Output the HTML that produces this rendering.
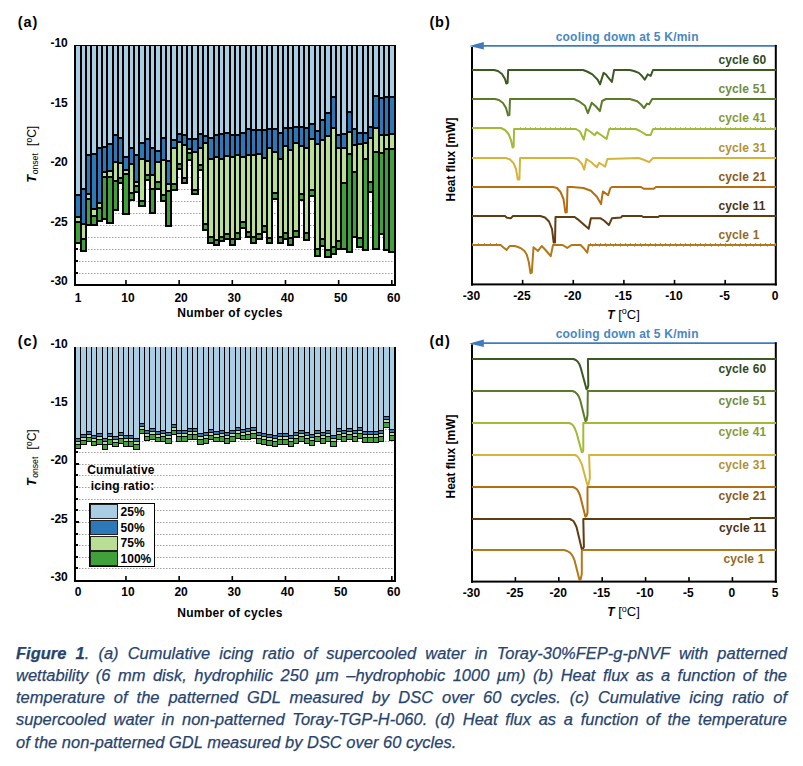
<!DOCTYPE html><html><head><meta charset="utf-8"><style>
html,body{margin:0;padding:0;background:#fff;}
body{width:803px;height:766px;overflow:hidden;position:relative;font-family:"Liberation Sans",sans-serif;}
svg{position:absolute;left:0;top:0;}
.cap{position:absolute;left:16px;width:804.2px;color:#27436f;font-style:italic;white-space:nowrap;font-size:17.2px;line-height:20px;transform:scaleX(0.9587);transform-origin:0 0;-webkit-text-stroke:0.25px #27436f;}
.j{text-align:justify;text-align-last:justify;white-space:normal;}
</style></head><body>
<svg width="803" height="630" viewBox="0 0 803 630" font-family='"Liberation Sans", sans-serif'>
<line x1="76" y1="57.50" x2="394" y2="57.50" stroke="#a0a0a0" stroke-width="1" stroke-dasharray="1.5 1.5"/>
<line x1="76" y1="69.50" x2="394" y2="69.50" stroke="#a0a0a0" stroke-width="1" stroke-dasharray="1.5 1.5"/>
<line x1="76" y1="81.50" x2="394" y2="81.50" stroke="#a0a0a0" stroke-width="1" stroke-dasharray="1.5 1.5"/>
<line x1="76" y1="93.50" x2="394" y2="93.50" stroke="#a0a0a0" stroke-width="1" stroke-dasharray="1.5 1.5"/>
<line x1="76" y1="105.50" x2="394" y2="105.50" stroke="#a0a0a0" stroke-width="1" stroke-dasharray="1.5 1.5"/>
<line x1="76" y1="117.50" x2="394" y2="117.50" stroke="#a0a0a0" stroke-width="1" stroke-dasharray="1.5 1.5"/>
<line x1="76" y1="129.50" x2="394" y2="129.50" stroke="#a0a0a0" stroke-width="1" stroke-dasharray="1.5 1.5"/>
<line x1="76" y1="141.50" x2="394" y2="141.50" stroke="#a0a0a0" stroke-width="1" stroke-dasharray="1.5 1.5"/>
<line x1="76" y1="153.50" x2="394" y2="153.50" stroke="#a0a0a0" stroke-width="1" stroke-dasharray="1.5 1.5"/>
<line x1="76" y1="165.50" x2="394" y2="165.50" stroke="#a0a0a0" stroke-width="1" stroke-dasharray="1.5 1.5"/>
<line x1="76" y1="177.50" x2="394" y2="177.50" stroke="#a0a0a0" stroke-width="1" stroke-dasharray="1.5 1.5"/>
<line x1="76" y1="189.50" x2="394" y2="189.50" stroke="#a0a0a0" stroke-width="1" stroke-dasharray="1.5 1.5"/>
<line x1="76" y1="201.50" x2="394" y2="201.50" stroke="#a0a0a0" stroke-width="1" stroke-dasharray="1.5 1.5"/>
<line x1="76" y1="213.50" x2="394" y2="213.50" stroke="#a0a0a0" stroke-width="1" stroke-dasharray="1.5 1.5"/>
<line x1="76" y1="225.50" x2="394" y2="225.50" stroke="#a0a0a0" stroke-width="1" stroke-dasharray="1.5 1.5"/>
<line x1="76" y1="237.50" x2="394" y2="237.50" stroke="#a0a0a0" stroke-width="1" stroke-dasharray="1.5 1.5"/>
<line x1="76" y1="249.50" x2="394" y2="249.50" stroke="#a0a0a0" stroke-width="1" stroke-dasharray="1.5 1.5"/>
<line x1="76" y1="261.50" x2="394" y2="261.50" stroke="#a0a0a0" stroke-width="1" stroke-dasharray="1.5 1.5"/>
<line x1="76" y1="273.50" x2="394" y2="273.50" stroke="#a0a0a0" stroke-width="1" stroke-dasharray="1.5 1.5"/>
<rect x="76" y="56" width="2" height="2" fill="#000" shape-rendering="crispEdges"/>
<rect x="76" y="68" width="2" height="2" fill="#000" shape-rendering="crispEdges"/>
<rect x="76" y="80" width="2" height="2" fill="#000" shape-rendering="crispEdges"/>
<rect x="76" y="92" width="2" height="2" fill="#000" shape-rendering="crispEdges"/>
<rect x="76" y="104" width="3" height="2" fill="#000" shape-rendering="crispEdges"/>
<rect x="76" y="116" width="2" height="2" fill="#000" shape-rendering="crispEdges"/>
<rect x="76" y="128" width="2" height="2" fill="#000" shape-rendering="crispEdges"/>
<rect x="76" y="140" width="2" height="2" fill="#000" shape-rendering="crispEdges"/>
<rect x="76" y="152" width="2" height="2" fill="#000" shape-rendering="crispEdges"/>
<rect x="76" y="164" width="3" height="2" fill="#000" shape-rendering="crispEdges"/>
<rect x="76" y="176" width="2" height="2" fill="#000" shape-rendering="crispEdges"/>
<rect x="76" y="188" width="2" height="2" fill="#000" shape-rendering="crispEdges"/>
<rect x="76" y="200" width="2" height="2" fill="#000" shape-rendering="crispEdges"/>
<rect x="76" y="212" width="2" height="2" fill="#000" shape-rendering="crispEdges"/>
<rect x="76" y="224" width="3" height="2" fill="#000" shape-rendering="crispEdges"/>
<rect x="76" y="236" width="2" height="2" fill="#000" shape-rendering="crispEdges"/>
<rect x="76" y="248" width="2" height="2" fill="#000" shape-rendering="crispEdges"/>
<rect x="76" y="260" width="2" height="2" fill="#000" shape-rendering="crispEdges"/>
<rect x="76" y="272" width="2" height="2" fill="#000" shape-rendering="crispEdges"/>
<g shape-rendering="crispEdges">
<rect x="74" y="45" width="8" height="199" fill="#000"/>
<rect x="80" y="45" width="7" height="207" fill="#000"/>
<rect x="85" y="45" width="7" height="181" fill="#000"/>
<rect x="90" y="45" width="8" height="181" fill="#000"/>
<rect x="96" y="45" width="7" height="177" fill="#000"/>
<rect x="101" y="45" width="7" height="175" fill="#000"/>
<rect x="106" y="45" width="8" height="179" fill="#000"/>
<rect x="112" y="45" width="7" height="166" fill="#000"/>
<rect x="117" y="45" width="7" height="139" fill="#000"/>
<rect x="122" y="45" width="8" height="170" fill="#000"/>
<rect x="128" y="45" width="7" height="156" fill="#000"/>
<rect x="133" y="45" width="7" height="148" fill="#000"/>
<rect x="138" y="45" width="8" height="162" fill="#000"/>
<rect x="144" y="45" width="7" height="136" fill="#000"/>
<rect x="149" y="45" width="7" height="169" fill="#000"/>
<rect x="154" y="45" width="8" height="145" fill="#000"/>
<rect x="160" y="45" width="7" height="157" fill="#000"/>
<rect x="165" y="45" width="7" height="182" fill="#000"/>
<rect x="170" y="45" width="8" height="146" fill="#000"/>
<rect x="176" y="45" width="7" height="125" fill="#000"/>
<rect x="181" y="45" width="7" height="139" fill="#000"/>
<rect x="186" y="45" width="7" height="116" fill="#000"/>
<rect x="191" y="45" width="8" height="150" fill="#000"/>
<rect x="197" y="45" width="7" height="126" fill="#000"/>
<rect x="202" y="45" width="7" height="186" fill="#000"/>
<rect x="207" y="45" width="8" height="199" fill="#000"/>
<rect x="213" y="45" width="7" height="201" fill="#000"/>
<rect x="218" y="45" width="7" height="197" fill="#000"/>
<rect x="223" y="45" width="8" height="195" fill="#000"/>
<rect x="229" y="45" width="7" height="201" fill="#000"/>
<rect x="234" y="45" width="7" height="195" fill="#000"/>
<rect x="239" y="45" width="8" height="184" fill="#000"/>
<rect x="245" y="45" width="7" height="193" fill="#000"/>
<rect x="250" y="45" width="7" height="199" fill="#000"/>
<rect x="255" y="45" width="8" height="195" fill="#000"/>
<rect x="261" y="45" width="7" height="188" fill="#000"/>
<rect x="266" y="45" width="7" height="199" fill="#000"/>
<rect x="271" y="45" width="8" height="155" fill="#000"/>
<rect x="277" y="45" width="7" height="199" fill="#000"/>
<rect x="282" y="45" width="7" height="195" fill="#000"/>
<rect x="287" y="45" width="7" height="201" fill="#000"/>
<rect x="292" y="45" width="8" height="193" fill="#000"/>
<rect x="298" y="45" width="7" height="156" fill="#000"/>
<rect x="303" y="45" width="7" height="196" fill="#000"/>
<rect x="308" y="45" width="8" height="152" fill="#000"/>
<rect x="314" y="45" width="7" height="212" fill="#000"/>
<rect x="319" y="45" width="7" height="202" fill="#000"/>
<rect x="324" y="45" width="8" height="213" fill="#000"/>
<rect x="330" y="45" width="7" height="210" fill="#000"/>
<rect x="335" y="45" width="7" height="205" fill="#000"/>
<rect x="340" y="45" width="8" height="205" fill="#000"/>
<rect x="346" y="45" width="7" height="208" fill="#000"/>
<rect x="351" y="45" width="7" height="193" fill="#000"/>
<rect x="356" y="45" width="8" height="203" fill="#000"/>
<rect x="362" y="45" width="7" height="206" fill="#000"/>
<rect x="367" y="45" width="7" height="148" fill="#000"/>
<rect x="372" y="45" width="8" height="205" fill="#000"/>
<rect x="378" y="45" width="7" height="190" fill="#000"/>
<rect x="383" y="45" width="7" height="206" fill="#000"/>
<rect x="388" y="45" width="8" height="208" fill="#000"/>
<rect x="76" y="46" width="4" height="148" fill="#a9cee3"/>
<rect x="76" y="196" width="4" height="20" fill="#2b79b9"/>
<rect x="76" y="218" width="4" height="3" fill="#b9df94"/>
<rect x="76" y="223" width="4" height="19" fill="#40a03a"/>
<rect x="82" y="46" width="3" height="142" fill="#a9cee3"/>
<rect x="82" y="190" width="3" height="33" fill="#2b79b9"/>
<rect x="82" y="225" width="3" height="13" fill="#b9df94"/>
<rect x="82" y="240" width="3" height="10" fill="#40a03a"/>
<rect x="87" y="46" width="3" height="108" fill="#a9cee3"/>
<rect x="87" y="156" width="3" height="37" fill="#2b79b9"/>
<rect x="87" y="195" width="3" height="3" fill="#b9df94"/>
<rect x="87" y="200" width="3" height="24" fill="#40a03a"/>
<rect x="92" y="46" width="4" height="107" fill="#a9cee3"/>
<rect x="92" y="155" width="4" height="53" fill="#2b79b9"/>
<rect x="92" y="210" width="4" height="5" fill="#b9df94"/>
<rect x="92" y="217" width="4" height="7" fill="#40a03a"/>
<rect x="98" y="46" width="3" height="101" fill="#a9cee3"/>
<rect x="98" y="149" width="3" height="53" fill="#2b79b9"/>
<rect x="98" y="204" width="3" height="3" fill="#b9df94"/>
<rect x="98" y="209" width="3" height="11" fill="#40a03a"/>
<rect x="103" y="46" width="3" height="100" fill="#a9cee3"/>
<rect x="103" y="148" width="3" height="23" fill="#2b79b9"/>
<rect x="103" y="173" width="3" height="3" fill="#b9df94"/>
<rect x="103" y="178" width="3" height="40" fill="#40a03a"/>
<rect x="108" y="46" width="4" height="97" fill="#a9cee3"/>
<rect x="108" y="145" width="4" height="25" fill="#2b79b9"/>
<rect x="108" y="172" width="4" height="4" fill="#b9df94"/>
<rect x="108" y="178" width="4" height="44" fill="#40a03a"/>
<rect x="114" y="46" width="3" height="88" fill="#a9cee3"/>
<rect x="114" y="136" width="3" height="25" fill="#2b79b9"/>
<rect x="114" y="163" width="3" height="17" fill="#b9df94"/>
<rect x="114" y="182" width="3" height="27" fill="#40a03a"/>
<rect x="119" y="46" width="3" height="91" fill="#a9cee3"/>
<rect x="119" y="139" width="3" height="23" fill="#2b79b9"/>
<rect x="119" y="164" width="3" height="13" fill="#b9df94"/>
<rect x="119" y="179" width="3" height="3" fill="#40a03a"/>
<rect x="124" y="46" width="4" height="110" fill="#a9cee3"/>
<rect x="124" y="158" width="4" height="11" fill="#2b79b9"/>
<rect x="124" y="171" width="4" height="2" fill="#b9df94"/>
<rect x="124" y="175" width="4" height="38" fill="#40a03a"/>
<rect x="130" y="46" width="3" height="101" fill="#a9cee3"/>
<rect x="130" y="149" width="3" height="14" fill="#2b79b9"/>
<rect x="130" y="165" width="3" height="27" fill="#b9df94"/>
<rect x="130" y="194" width="3" height="5" fill="#40a03a"/>
<rect x="135" y="46" width="3" height="108" fill="#a9cee3"/>
<rect x="135" y="156" width="3" height="25" fill="#2b79b9"/>
<rect x="135" y="183" width="3" height="2" fill="#b9df94"/>
<rect x="135" y="187" width="3" height="4" fill="#40a03a"/>
<rect x="140" y="46" width="4" height="96" fill="#a9cee3"/>
<rect x="140" y="144" width="4" height="14" fill="#2b79b9"/>
<rect x="140" y="160" width="4" height="40" fill="#b9df94"/>
<rect x="140" y="202" width="4" height="3" fill="#40a03a"/>
<rect x="146" y="46" width="3" height="92" fill="#a9cee3"/>
<rect x="146" y="140" width="3" height="20" fill="#2b79b9"/>
<rect x="146" y="162" width="3" height="12" fill="#b9df94"/>
<rect x="146" y="176" width="3" height="3" fill="#40a03a"/>
<rect x="151" y="46" width="3" height="101" fill="#a9cee3"/>
<rect x="151" y="149" width="3" height="25" fill="#2b79b9"/>
<rect x="151" y="176" width="3" height="12" fill="#b9df94"/>
<rect x="151" y="190" width="3" height="22" fill="#40a03a"/>
<rect x="156" y="46" width="4" height="104" fill="#a9cee3"/>
<rect x="156" y="152" width="4" height="9" fill="#2b79b9"/>
<rect x="156" y="163" width="4" height="18" fill="#b9df94"/>
<rect x="156" y="183" width="4" height="5" fill="#40a03a"/>
<rect x="162" y="46" width="3" height="91" fill="#a9cee3"/>
<rect x="162" y="139" width="3" height="20" fill="#2b79b9"/>
<rect x="162" y="161" width="3" height="33" fill="#b9df94"/>
<rect x="162" y="196" width="3" height="4" fill="#40a03a"/>
<rect x="167" y="46" width="3" height="114" fill="#a9cee3"/>
<rect x="167" y="162" width="3" height="21" fill="#2b79b9"/>
<rect x="167" y="185" width="3" height="5" fill="#b9df94"/>
<rect x="167" y="192" width="3" height="33" fill="#40a03a"/>
<rect x="172" y="46" width="4" height="93" fill="#a9cee3"/>
<rect x="172" y="141" width="4" height="6" fill="#2b79b9"/>
<rect x="172" y="149" width="4" height="34" fill="#b9df94"/>
<rect x="172" y="185" width="4" height="4" fill="#40a03a"/>
<rect x="178" y="46" width="3" height="87" fill="#a9cee3"/>
<rect x="178" y="135" width="3" height="6" fill="#2b79b9"/>
<rect x="178" y="143" width="3" height="20" fill="#b9df94"/>
<rect x="178" y="165" width="3" height="3" fill="#40a03a"/>
<rect x="183" y="46" width="3" height="88" fill="#a9cee3"/>
<rect x="183" y="136" width="3" height="8" fill="#2b79b9"/>
<rect x="183" y="146" width="3" height="31" fill="#b9df94"/>
<rect x="183" y="179" width="3" height="3" fill="#40a03a"/>
<rect x="188" y="46" width="3" height="92" fill="#a9cee3"/>
<rect x="188" y="140" width="3" height="8" fill="#2b79b9"/>
<rect x="188" y="150" width="3" height="2" fill="#b9df94"/>
<rect x="188" y="154" width="3" height="5" fill="#40a03a"/>
<rect x="193" y="46" width="4" height="92" fill="#a9cee3"/>
<rect x="193" y="140" width="4" height="11" fill="#2b79b9"/>
<rect x="193" y="153" width="4" height="36" fill="#b9df94"/>
<rect x="193" y="191" width="4" height="2" fill="#40a03a"/>
<rect x="199" y="46" width="3" height="87" fill="#a9cee3"/>
<rect x="199" y="135" width="3" height="12" fill="#2b79b9"/>
<rect x="199" y="149" width="3" height="15" fill="#b9df94"/>
<rect x="199" y="166" width="3" height="3" fill="#40a03a"/>
<rect x="204" y="46" width="3" height="89" fill="#a9cee3"/>
<rect x="204" y="137" width="3" height="5" fill="#2b79b9"/>
<rect x="204" y="144" width="3" height="79" fill="#b9df94"/>
<rect x="204" y="225" width="3" height="4" fill="#40a03a"/>
<rect x="209" y="46" width="4" height="91" fill="#a9cee3"/>
<rect x="209" y="139" width="4" height="19" fill="#2b79b9"/>
<rect x="209" y="160" width="4" height="76" fill="#b9df94"/>
<rect x="209" y="238" width="4" height="4" fill="#40a03a"/>
<rect x="215" y="46" width="3" height="88" fill="#a9cee3"/>
<rect x="215" y="136" width="3" height="20" fill="#2b79b9"/>
<rect x="215" y="158" width="3" height="81" fill="#b9df94"/>
<rect x="215" y="241" width="3" height="3" fill="#40a03a"/>
<rect x="220" y="46" width="3" height="87" fill="#a9cee3"/>
<rect x="220" y="135" width="3" height="23" fill="#2b79b9"/>
<rect x="220" y="160" width="3" height="76" fill="#b9df94"/>
<rect x="220" y="238" width="3" height="2" fill="#40a03a"/>
<rect x="225" y="46" width="4" height="86" fill="#a9cee3"/>
<rect x="225" y="134" width="4" height="21" fill="#2b79b9"/>
<rect x="225" y="157" width="4" height="76" fill="#b9df94"/>
<rect x="225" y="235" width="4" height="3" fill="#40a03a"/>
<rect x="231" y="46" width="3" height="88" fill="#a9cee3"/>
<rect x="231" y="136" width="3" height="20" fill="#2b79b9"/>
<rect x="231" y="158" width="3" height="80" fill="#b9df94"/>
<rect x="231" y="240" width="3" height="4" fill="#40a03a"/>
<rect x="236" y="46" width="3" height="88" fill="#a9cee3"/>
<rect x="236" y="136" width="3" height="18" fill="#2b79b9"/>
<rect x="236" y="156" width="3" height="76" fill="#b9df94"/>
<rect x="236" y="234" width="3" height="4" fill="#40a03a"/>
<rect x="241" y="46" width="4" height="86" fill="#a9cee3"/>
<rect x="241" y="134" width="4" height="22" fill="#2b79b9"/>
<rect x="241" y="158" width="4" height="63" fill="#b9df94"/>
<rect x="241" y="223" width="4" height="4" fill="#40a03a"/>
<rect x="247" y="46" width="3" height="82" fill="#a9cee3"/>
<rect x="247" y="130" width="3" height="24" fill="#2b79b9"/>
<rect x="247" y="156" width="3" height="75" fill="#b9df94"/>
<rect x="247" y="233" width="3" height="3" fill="#40a03a"/>
<rect x="252" y="46" width="3" height="83" fill="#a9cee3"/>
<rect x="252" y="131" width="3" height="23" fill="#2b79b9"/>
<rect x="252" y="156" width="3" height="80" fill="#b9df94"/>
<rect x="252" y="238" width="3" height="4" fill="#40a03a"/>
<rect x="257" y="46" width="4" height="83" fill="#a9cee3"/>
<rect x="257" y="131" width="4" height="22" fill="#2b79b9"/>
<rect x="257" y="155" width="4" height="78" fill="#b9df94"/>
<rect x="257" y="235" width="4" height="3" fill="#40a03a"/>
<rect x="263" y="46" width="3" height="83" fill="#a9cee3"/>
<rect x="263" y="131" width="3" height="26" fill="#2b79b9"/>
<rect x="263" y="159" width="3" height="66" fill="#b9df94"/>
<rect x="263" y="227" width="3" height="4" fill="#40a03a"/>
<rect x="268" y="46" width="3" height="82" fill="#a9cee3"/>
<rect x="268" y="130" width="3" height="17" fill="#2b79b9"/>
<rect x="268" y="149" width="3" height="88" fill="#b9df94"/>
<rect x="268" y="239" width="3" height="3" fill="#40a03a"/>
<rect x="273" y="46" width="4" height="82" fill="#a9cee3"/>
<rect x="273" y="130" width="4" height="21" fill="#2b79b9"/>
<rect x="273" y="153" width="4" height="39" fill="#b9df94"/>
<rect x="273" y="194" width="4" height="4" fill="#40a03a"/>
<rect x="279" y="46" width="3" height="86" fill="#a9cee3"/>
<rect x="279" y="134" width="3" height="24" fill="#2b79b9"/>
<rect x="279" y="160" width="3" height="76" fill="#b9df94"/>
<rect x="279" y="238" width="3" height="4" fill="#40a03a"/>
<rect x="284" y="46" width="3" height="81" fill="#a9cee3"/>
<rect x="284" y="129" width="3" height="16" fill="#2b79b9"/>
<rect x="284" y="147" width="3" height="85" fill="#b9df94"/>
<rect x="284" y="234" width="3" height="4" fill="#40a03a"/>
<rect x="289" y="46" width="3" height="81" fill="#a9cee3"/>
<rect x="289" y="129" width="3" height="20" fill="#2b79b9"/>
<rect x="289" y="151" width="3" height="86" fill="#b9df94"/>
<rect x="289" y="239" width="3" height="5" fill="#40a03a"/>
<rect x="294" y="46" width="4" height="80" fill="#a9cee3"/>
<rect x="294" y="128" width="4" height="14" fill="#2b79b9"/>
<rect x="294" y="144" width="4" height="86" fill="#b9df94"/>
<rect x="294" y="232" width="4" height="4" fill="#40a03a"/>
<rect x="300" y="46" width="3" height="80" fill="#a9cee3"/>
<rect x="300" y="128" width="3" height="17" fill="#2b79b9"/>
<rect x="300" y="147" width="3" height="46" fill="#b9df94"/>
<rect x="300" y="195" width="3" height="4" fill="#40a03a"/>
<rect x="305" y="46" width="3" height="81" fill="#a9cee3"/>
<rect x="305" y="129" width="3" height="18" fill="#2b79b9"/>
<rect x="305" y="149" width="3" height="83" fill="#b9df94"/>
<rect x="305" y="234" width="3" height="5" fill="#40a03a"/>
<rect x="310" y="46" width="4" height="77" fill="#a9cee3"/>
<rect x="310" y="125" width="4" height="13" fill="#2b79b9"/>
<rect x="310" y="140" width="4" height="49" fill="#b9df94"/>
<rect x="310" y="191" width="4" height="4" fill="#40a03a"/>
<rect x="316" y="46" width="3" height="84" fill="#a9cee3"/>
<rect x="316" y="132" width="3" height="11" fill="#2b79b9"/>
<rect x="316" y="145" width="3" height="103" fill="#b9df94"/>
<rect x="316" y="250" width="3" height="5" fill="#40a03a"/>
<rect x="321" y="46" width="3" height="73" fill="#a9cee3"/>
<rect x="321" y="121" width="3" height="18" fill="#2b79b9"/>
<rect x="321" y="141" width="3" height="97" fill="#b9df94"/>
<rect x="321" y="240" width="3" height="5" fill="#40a03a"/>
<rect x="326" y="46" width="4" height="66" fill="#a9cee3"/>
<rect x="326" y="114" width="4" height="21" fill="#2b79b9"/>
<rect x="326" y="137" width="4" height="112" fill="#b9df94"/>
<rect x="326" y="251" width="4" height="5" fill="#40a03a"/>
<rect x="332" y="46" width="3" height="50" fill="#a9cee3"/>
<rect x="332" y="98" width="3" height="29" fill="#2b79b9"/>
<rect x="332" y="129" width="3" height="117" fill="#b9df94"/>
<rect x="332" y="248" width="3" height="5" fill="#40a03a"/>
<rect x="337" y="46" width="3" height="88" fill="#a9cee3"/>
<rect x="337" y="136" width="3" height="11" fill="#2b79b9"/>
<rect x="337" y="149" width="3" height="91" fill="#b9df94"/>
<rect x="337" y="242" width="3" height="6" fill="#40a03a"/>
<rect x="342" y="46" width="4" height="87" fill="#a9cee3"/>
<rect x="342" y="135" width="4" height="12" fill="#2b79b9"/>
<rect x="342" y="149" width="4" height="33" fill="#b9df94"/>
<rect x="342" y="184" width="4" height="64" fill="#40a03a"/>
<rect x="348" y="46" width="3" height="65" fill="#a9cee3"/>
<rect x="348" y="113" width="3" height="18" fill="#2b79b9"/>
<rect x="348" y="133" width="3" height="20" fill="#b9df94"/>
<rect x="348" y="155" width="3" height="96" fill="#40a03a"/>
<rect x="353" y="46" width="3" height="82" fill="#a9cee3"/>
<rect x="353" y="130" width="3" height="14" fill="#2b79b9"/>
<rect x="353" y="146" width="3" height="25" fill="#b9df94"/>
<rect x="353" y="173" width="3" height="63" fill="#40a03a"/>
<rect x="358" y="46" width="4" height="86" fill="#a9cee3"/>
<rect x="358" y="134" width="4" height="9" fill="#2b79b9"/>
<rect x="358" y="145" width="4" height="92" fill="#b9df94"/>
<rect x="358" y="239" width="4" height="7" fill="#40a03a"/>
<rect x="364" y="46" width="3" height="86" fill="#a9cee3"/>
<rect x="364" y="134" width="3" height="8" fill="#2b79b9"/>
<rect x="364" y="144" width="3" height="14" fill="#b9df94"/>
<rect x="364" y="160" width="3" height="89" fill="#40a03a"/>
<rect x="369" y="46" width="3" height="80" fill="#a9cee3"/>
<rect x="369" y="128" width="3" height="9" fill="#2b79b9"/>
<rect x="369" y="139" width="3" height="42" fill="#b9df94"/>
<rect x="369" y="183" width="3" height="8" fill="#40a03a"/>
<rect x="374" y="46" width="4" height="49" fill="#a9cee3"/>
<rect x="374" y="97" width="4" height="30" fill="#2b79b9"/>
<rect x="374" y="129" width="4" height="22" fill="#b9df94"/>
<rect x="374" y="153" width="4" height="95" fill="#40a03a"/>
<rect x="380" y="46" width="3" height="51" fill="#a9cee3"/>
<rect x="380" y="99" width="3" height="35" fill="#2b79b9"/>
<rect x="380" y="136" width="3" height="16" fill="#b9df94"/>
<rect x="380" y="154" width="3" height="79" fill="#40a03a"/>
<rect x="385" y="46" width="3" height="50" fill="#a9cee3"/>
<rect x="385" y="98" width="3" height="36" fill="#2b79b9"/>
<rect x="385" y="136" width="3" height="12" fill="#b9df94"/>
<rect x="385" y="150" width="3" height="99" fill="#40a03a"/>
<rect x="390" y="46" width="4" height="50" fill="#a9cee3"/>
<rect x="390" y="98" width="4" height="35" fill="#2b79b9"/>
<rect x="390" y="135" width="4" height="13" fill="#b9df94"/>
<rect x="390" y="150" width="4" height="101" fill="#40a03a"/>
</g>
<g shape-rendering="crispEdges">
<rect x="74" y="45" width="2" height="241" fill="#000"/>
<rect x="74" y="284" width="322" height="2" fill="#000"/>
<rect x="394" y="45" width="2" height="241" fill="#000"/>
<rect x="74" y="45" width="322" height="1" fill="#000"/>
</g>
<rect x="125.17" y="280" width="1.6" height="4" fill="#000"/>
<rect x="178.34" y="280" width="1.6" height="4" fill="#000"/>
<rect x="231.51" y="280" width="1.6" height="4" fill="#000"/>
<rect x="284.68" y="280" width="1.6" height="4" fill="#000"/>
<rect x="337.85" y="280" width="1.6" height="4" fill="#000"/>
<rect x="391.02" y="280" width="1.6" height="4" fill="#000"/>
<text x="67.8" y="47.0" font-size="12" font-weight="bold" text-anchor="end" fill="#000" >-10</text>
<text x="67.8" y="106.6" font-size="12" font-weight="bold" text-anchor="end" fill="#000" >-15</text>
<text x="67.8" y="166.2" font-size="12" font-weight="bold" text-anchor="end" fill="#000" >-20</text>
<text x="67.8" y="225.8" font-size="12" font-weight="bold" text-anchor="end" fill="#000" >-25</text>
<text x="67.8" y="285.4" font-size="12" font-weight="bold" text-anchor="end" fill="#000" >-30</text>
<text x="78.2" y="302.0" font-size="12" font-weight="bold" text-anchor="middle" fill="#000" >1</text>
<text x="128.0" y="302.0" font-size="12" font-weight="bold" text-anchor="middle" fill="#000" >10</text>
<text x="181.1" y="302.0" font-size="12" font-weight="bold" text-anchor="middle" fill="#000" >20</text>
<text x="234.3" y="302.0" font-size="12" font-weight="bold" text-anchor="middle" fill="#000" >30</text>
<text x="287.5" y="302.0" font-size="12" font-weight="bold" text-anchor="middle" fill="#000" >40</text>
<text x="340.7" y="302.0" font-size="12" font-weight="bold" text-anchor="middle" fill="#000" >50</text>
<text x="393.8" y="302.0" font-size="12" font-weight="bold" text-anchor="middle" fill="#000" >60</text>
<text x="230.0" y="316.8" font-size="12" font-weight="bold" text-anchor="middle" fill="#000" letter-spacing="0.35">Number of cycles</text>
<line x1="76" y1="359.50" x2="394" y2="359.50" stroke="#a0a0a0" stroke-width="1" stroke-dasharray="1.5 1.5"/>
<line x1="76" y1="371.50" x2="394" y2="371.50" stroke="#a0a0a0" stroke-width="1" stroke-dasharray="1.5 1.5"/>
<line x1="76" y1="382.50" x2="394" y2="382.50" stroke="#a0a0a0" stroke-width="1" stroke-dasharray="1.5 1.5"/>
<line x1="76" y1="394.50" x2="394" y2="394.50" stroke="#a0a0a0" stroke-width="1" stroke-dasharray="1.5 1.5"/>
<line x1="76" y1="406.50" x2="394" y2="406.50" stroke="#a0a0a0" stroke-width="1" stroke-dasharray="1.5 1.5"/>
<line x1="76" y1="417.50" x2="394" y2="417.50" stroke="#a0a0a0" stroke-width="1" stroke-dasharray="1.5 1.5"/>
<line x1="76" y1="429.50" x2="394" y2="429.50" stroke="#a0a0a0" stroke-width="1" stroke-dasharray="1.5 1.5"/>
<line x1="76" y1="441.50" x2="394" y2="441.50" stroke="#a0a0a0" stroke-width="1" stroke-dasharray="1.5 1.5"/>
<line x1="76" y1="452.50" x2="394" y2="452.50" stroke="#a0a0a0" stroke-width="1" stroke-dasharray="1.5 1.5"/>
<line x1="76" y1="464.50" x2="394" y2="464.50" stroke="#a0a0a0" stroke-width="1" stroke-dasharray="1.5 1.5"/>
<line x1="76" y1="475.50" x2="394" y2="475.50" stroke="#a0a0a0" stroke-width="1" stroke-dasharray="1.5 1.5"/>
<line x1="76" y1="487.50" x2="394" y2="487.50" stroke="#a0a0a0" stroke-width="1" stroke-dasharray="1.5 1.5"/>
<line x1="76" y1="499.50" x2="394" y2="499.50" stroke="#a0a0a0" stroke-width="1" stroke-dasharray="1.5 1.5"/>
<line x1="76" y1="510.50" x2="394" y2="510.50" stroke="#a0a0a0" stroke-width="1" stroke-dasharray="1.5 1.5"/>
<line x1="76" y1="522.50" x2="394" y2="522.50" stroke="#a0a0a0" stroke-width="1" stroke-dasharray="1.5 1.5"/>
<line x1="76" y1="534.50" x2="394" y2="534.50" stroke="#a0a0a0" stroke-width="1" stroke-dasharray="1.5 1.5"/>
<line x1="76" y1="545.50" x2="394" y2="545.50" stroke="#a0a0a0" stroke-width="1" stroke-dasharray="1.5 1.5"/>
<line x1="76" y1="557.50" x2="394" y2="557.50" stroke="#a0a0a0" stroke-width="1" stroke-dasharray="1.5 1.5"/>
<line x1="76" y1="568.50" x2="394" y2="568.50" stroke="#a0a0a0" stroke-width="1" stroke-dasharray="1.5 1.5"/>
<rect x="76" y="358" width="2" height="2" fill="#000" shape-rendering="crispEdges"/>
<rect x="76" y="370" width="2" height="2" fill="#000" shape-rendering="crispEdges"/>
<rect x="76" y="381" width="2" height="2" fill="#000" shape-rendering="crispEdges"/>
<rect x="76" y="393" width="2" height="2" fill="#000" shape-rendering="crispEdges"/>
<rect x="76" y="405" width="3" height="2" fill="#000" shape-rendering="crispEdges"/>
<rect x="76" y="416" width="2" height="2" fill="#000" shape-rendering="crispEdges"/>
<rect x="76" y="428" width="2" height="2" fill="#000" shape-rendering="crispEdges"/>
<rect x="76" y="440" width="2" height="2" fill="#000" shape-rendering="crispEdges"/>
<rect x="76" y="451" width="2" height="2" fill="#000" shape-rendering="crispEdges"/>
<rect x="76" y="463" width="3" height="2" fill="#000" shape-rendering="crispEdges"/>
<rect x="76" y="474" width="2" height="2" fill="#000" shape-rendering="crispEdges"/>
<rect x="76" y="486" width="2" height="2" fill="#000" shape-rendering="crispEdges"/>
<rect x="76" y="498" width="2" height="2" fill="#000" shape-rendering="crispEdges"/>
<rect x="76" y="509" width="2" height="2" fill="#000" shape-rendering="crispEdges"/>
<rect x="76" y="521" width="3" height="2" fill="#000" shape-rendering="crispEdges"/>
<rect x="76" y="533" width="2" height="2" fill="#000" shape-rendering="crispEdges"/>
<rect x="76" y="544" width="2" height="2" fill="#000" shape-rendering="crispEdges"/>
<rect x="76" y="556" width="2" height="2" fill="#000" shape-rendering="crispEdges"/>
<rect x="76" y="567" width="2" height="2" fill="#000" shape-rendering="crispEdges"/>
<g shape-rendering="crispEdges">
<rect x="75" y="347" width="6" height="102" fill="#000"/>
<rect x="80" y="347" width="7" height="98" fill="#000"/>
<rect x="86" y="347" width="6" height="95" fill="#000"/>
<rect x="91" y="347" width="6" height="99" fill="#000"/>
<rect x="96" y="347" width="7" height="98" fill="#000"/>
<rect x="102" y="347" width="6" height="103" fill="#000"/>
<rect x="107" y="347" width="6" height="98" fill="#000"/>
<rect x="112" y="347" width="7" height="100" fill="#000"/>
<rect x="118" y="347" width="6" height="97" fill="#000"/>
<rect x="123" y="347" width="6" height="100" fill="#000"/>
<rect x="128" y="347" width="6" height="100" fill="#000"/>
<rect x="133" y="347" width="7" height="103" fill="#000"/>
<rect x="139" y="347" width="6" height="87" fill="#000"/>
<rect x="144" y="347" width="6" height="94" fill="#000"/>
<rect x="149" y="347" width="7" height="93" fill="#000"/>
<rect x="155" y="347" width="6" height="95" fill="#000"/>
<rect x="160" y="347" width="6" height="95" fill="#000"/>
<rect x="165" y="347" width="7" height="97" fill="#000"/>
<rect x="171" y="347" width="6" height="88" fill="#000"/>
<rect x="176" y="347" width="6" height="95" fill="#000"/>
<rect x="181" y="347" width="7" height="95" fill="#000"/>
<rect x="187" y="347" width="6" height="93" fill="#000"/>
<rect x="192" y="347" width="6" height="93" fill="#000"/>
<rect x="197" y="347" width="7" height="98" fill="#000"/>
<rect x="203" y="347" width="6" height="97" fill="#000"/>
<rect x="208" y="347" width="6" height="93" fill="#000"/>
<rect x="213" y="347" width="7" height="95" fill="#000"/>
<rect x="219" y="347" width="6" height="95" fill="#000"/>
<rect x="224" y="347" width="6" height="97" fill="#000"/>
<rect x="229" y="347" width="7" height="95" fill="#000"/>
<rect x="235" y="347" width="6" height="92" fill="#000"/>
<rect x="240" y="347" width="6" height="93" fill="#000"/>
<rect x="245" y="347" width="6" height="93" fill="#000"/>
<rect x="250" y="347" width="7" height="92" fill="#000"/>
<rect x="256" y="347" width="6" height="97" fill="#000"/>
<rect x="261" y="347" width="6" height="98" fill="#000"/>
<rect x="266" y="347" width="7" height="99" fill="#000"/>
<rect x="272" y="347" width="6" height="100" fill="#000"/>
<rect x="277" y="347" width="6" height="98" fill="#000"/>
<rect x="282" y="347" width="7" height="98" fill="#000"/>
<rect x="288" y="347" width="6" height="100" fill="#000"/>
<rect x="293" y="347" width="6" height="97" fill="#000"/>
<rect x="298" y="347" width="7" height="95" fill="#000"/>
<rect x="304" y="347" width="6" height="97" fill="#000"/>
<rect x="309" y="347" width="6" height="99" fill="#000"/>
<rect x="314" y="347" width="7" height="95" fill="#000"/>
<rect x="320" y="347" width="6" height="97" fill="#000"/>
<rect x="325" y="347" width="6" height="95" fill="#000"/>
<rect x="330" y="347" width="7" height="100" fill="#000"/>
<rect x="336" y="347" width="6" height="93" fill="#000"/>
<rect x="341" y="347" width="6" height="95" fill="#000"/>
<rect x="346" y="347" width="7" height="93" fill="#000"/>
<rect x="352" y="347" width="6" height="95" fill="#000"/>
<rect x="357" y="347" width="6" height="92" fill="#000"/>
<rect x="362" y="347" width="6" height="96" fill="#000"/>
<rect x="367" y="347" width="7" height="96" fill="#000"/>
<rect x="373" y="347" width="6" height="96" fill="#000"/>
<rect x="378" y="347" width="6" height="95" fill="#000"/>
<rect x="383" y="347" width="7" height="81" fill="#000"/>
<rect x="389" y="347" width="6" height="94" fill="#000"/>
<rect x="76" y="347" width="4" height="91" fill="#a9cee3"/>
<rect x="76" y="439" width="4" height="2" fill="#2b79b9"/>
<rect x="76" y="442" width="4" height="2" fill="#b9df94"/>
<rect x="76" y="445" width="4" height="3" fill="#40a03a"/>
<rect x="81" y="347" width="5" height="87" fill="#a9cee3"/>
<rect x="81" y="435" width="5" height="2" fill="#2b79b9"/>
<rect x="81" y="438" width="5" height="2" fill="#b9df94"/>
<rect x="81" y="441" width="5" height="3" fill="#40a03a"/>
<rect x="87" y="347" width="4" height="84" fill="#a9cee3"/>
<rect x="87" y="432" width="4" height="2" fill="#2b79b9"/>
<rect x="87" y="435" width="4" height="2" fill="#b9df94"/>
<rect x="87" y="438" width="4" height="3" fill="#40a03a"/>
<rect x="92" y="347" width="4" height="88" fill="#a9cee3"/>
<rect x="92" y="436" width="4" height="2" fill="#2b79b9"/>
<rect x="92" y="439" width="4" height="2" fill="#b9df94"/>
<rect x="92" y="442" width="4" height="3" fill="#40a03a"/>
<rect x="97" y="347" width="5" height="86" fill="#a9cee3"/>
<rect x="97" y="434" width="5" height="2" fill="#2b79b9"/>
<rect x="97" y="437" width="5" height="2" fill="#b9df94"/>
<rect x="97" y="440" width="5" height="4" fill="#40a03a"/>
<rect x="103" y="347" width="4" height="91" fill="#a9cee3"/>
<rect x="103" y="439" width="4" height="2" fill="#2b79b9"/>
<rect x="103" y="442" width="4" height="2" fill="#b9df94"/>
<rect x="103" y="445" width="4" height="4" fill="#40a03a"/>
<rect x="108" y="347" width="4" height="86" fill="#a9cee3"/>
<rect x="108" y="434" width="4" height="2" fill="#2b79b9"/>
<rect x="108" y="437" width="4" height="2" fill="#b9df94"/>
<rect x="108" y="440" width="4" height="4" fill="#40a03a"/>
<rect x="113" y="347" width="5" height="89" fill="#a9cee3"/>
<rect x="113" y="437" width="5" height="2" fill="#2b79b9"/>
<rect x="113" y="440" width="5" height="2" fill="#b9df94"/>
<rect x="113" y="443" width="5" height="3" fill="#40a03a"/>
<rect x="119" y="347" width="4" height="85" fill="#a9cee3"/>
<rect x="119" y="433" width="4" height="2" fill="#2b79b9"/>
<rect x="119" y="436" width="4" height="2" fill="#b9df94"/>
<rect x="119" y="439" width="4" height="4" fill="#40a03a"/>
<rect x="124" y="347" width="4" height="88" fill="#a9cee3"/>
<rect x="124" y="436" width="4" height="2" fill="#2b79b9"/>
<rect x="124" y="439" width="4" height="2" fill="#b9df94"/>
<rect x="124" y="442" width="4" height="4" fill="#40a03a"/>
<rect x="129" y="347" width="4" height="88" fill="#a9cee3"/>
<rect x="129" y="436" width="4" height="2" fill="#2b79b9"/>
<rect x="129" y="439" width="4" height="2" fill="#b9df94"/>
<rect x="129" y="442" width="4" height="4" fill="#40a03a"/>
<rect x="134" y="347" width="5" height="91" fill="#a9cee3"/>
<rect x="134" y="439" width="5" height="2" fill="#2b79b9"/>
<rect x="134" y="442" width="5" height="2" fill="#b9df94"/>
<rect x="134" y="445" width="5" height="4" fill="#40a03a"/>
<rect x="140" y="347" width="4" height="76" fill="#a9cee3"/>
<rect x="140" y="424" width="4" height="2" fill="#2b79b9"/>
<rect x="140" y="427" width="4" height="2" fill="#b9df94"/>
<rect x="140" y="430" width="4" height="3" fill="#40a03a"/>
<rect x="145" y="347" width="4" height="83" fill="#a9cee3"/>
<rect x="145" y="431" width="4" height="2" fill="#2b79b9"/>
<rect x="145" y="434" width="4" height="2" fill="#b9df94"/>
<rect x="145" y="437" width="4" height="3" fill="#40a03a"/>
<rect x="150" y="347" width="5" height="81" fill="#a9cee3"/>
<rect x="150" y="429" width="5" height="2" fill="#2b79b9"/>
<rect x="150" y="432" width="5" height="2" fill="#b9df94"/>
<rect x="150" y="435" width="5" height="4" fill="#40a03a"/>
<rect x="156" y="347" width="4" height="84" fill="#a9cee3"/>
<rect x="156" y="432" width="4" height="2" fill="#2b79b9"/>
<rect x="156" y="435" width="4" height="2" fill="#b9df94"/>
<rect x="156" y="438" width="4" height="3" fill="#40a03a"/>
<rect x="161" y="347" width="4" height="83" fill="#a9cee3"/>
<rect x="161" y="431" width="4" height="2" fill="#2b79b9"/>
<rect x="161" y="434" width="4" height="2" fill="#b9df94"/>
<rect x="161" y="437" width="4" height="4" fill="#40a03a"/>
<rect x="166" y="347" width="5" height="85" fill="#a9cee3"/>
<rect x="166" y="433" width="5" height="2" fill="#2b79b9"/>
<rect x="166" y="436" width="5" height="2" fill="#b9df94"/>
<rect x="166" y="439" width="5" height="4" fill="#40a03a"/>
<rect x="172" y="347" width="4" height="77" fill="#a9cee3"/>
<rect x="172" y="425" width="4" height="2" fill="#2b79b9"/>
<rect x="172" y="428" width="4" height="2" fill="#b9df94"/>
<rect x="172" y="431" width="4" height="3" fill="#40a03a"/>
<rect x="177" y="347" width="4" height="83" fill="#a9cee3"/>
<rect x="177" y="431" width="4" height="2" fill="#2b79b9"/>
<rect x="177" y="434" width="4" height="2" fill="#b9df94"/>
<rect x="177" y="437" width="4" height="4" fill="#40a03a"/>
<rect x="182" y="347" width="5" height="83" fill="#a9cee3"/>
<rect x="182" y="431" width="5" height="2" fill="#2b79b9"/>
<rect x="182" y="434" width="5" height="2" fill="#b9df94"/>
<rect x="182" y="437" width="5" height="4" fill="#40a03a"/>
<rect x="188" y="347" width="4" height="81" fill="#a9cee3"/>
<rect x="188" y="429" width="4" height="2" fill="#2b79b9"/>
<rect x="188" y="432" width="4" height="2" fill="#b9df94"/>
<rect x="188" y="435" width="4" height="4" fill="#40a03a"/>
<rect x="193" y="347" width="4" height="81" fill="#a9cee3"/>
<rect x="193" y="429" width="4" height="2" fill="#2b79b9"/>
<rect x="193" y="432" width="4" height="2" fill="#b9df94"/>
<rect x="193" y="435" width="4" height="4" fill="#40a03a"/>
<rect x="198" y="347" width="5" height="86" fill="#a9cee3"/>
<rect x="198" y="434" width="5" height="2" fill="#2b79b9"/>
<rect x="198" y="437" width="5" height="2" fill="#b9df94"/>
<rect x="198" y="440" width="5" height="4" fill="#40a03a"/>
<rect x="204" y="347" width="4" height="85" fill="#a9cee3"/>
<rect x="204" y="433" width="4" height="2" fill="#2b79b9"/>
<rect x="204" y="436" width="4" height="2" fill="#b9df94"/>
<rect x="204" y="439" width="4" height="4" fill="#40a03a"/>
<rect x="209" y="347" width="4" height="82" fill="#a9cee3"/>
<rect x="209" y="430" width="4" height="2" fill="#2b79b9"/>
<rect x="209" y="433" width="4" height="2" fill="#b9df94"/>
<rect x="209" y="436" width="4" height="3" fill="#40a03a"/>
<rect x="214" y="347" width="5" height="84" fill="#a9cee3"/>
<rect x="214" y="432" width="5" height="2" fill="#2b79b9"/>
<rect x="214" y="435" width="5" height="2" fill="#b9df94"/>
<rect x="214" y="438" width="5" height="3" fill="#40a03a"/>
<rect x="220" y="347" width="4" height="83" fill="#a9cee3"/>
<rect x="220" y="431" width="4" height="2" fill="#2b79b9"/>
<rect x="220" y="434" width="4" height="2" fill="#b9df94"/>
<rect x="220" y="437" width="4" height="4" fill="#40a03a"/>
<rect x="225" y="347" width="4" height="85" fill="#a9cee3"/>
<rect x="225" y="433" width="4" height="2" fill="#2b79b9"/>
<rect x="225" y="436" width="4" height="2" fill="#b9df94"/>
<rect x="225" y="439" width="4" height="4" fill="#40a03a"/>
<rect x="230" y="347" width="5" height="83" fill="#a9cee3"/>
<rect x="230" y="431" width="5" height="2" fill="#2b79b9"/>
<rect x="230" y="434" width="5" height="2" fill="#b9df94"/>
<rect x="230" y="437" width="5" height="4" fill="#40a03a"/>
<rect x="236" y="347" width="4" height="80" fill="#a9cee3"/>
<rect x="236" y="428" width="4" height="2" fill="#2b79b9"/>
<rect x="236" y="431" width="4" height="2" fill="#b9df94"/>
<rect x="236" y="434" width="4" height="4" fill="#40a03a"/>
<rect x="241" y="347" width="4" height="82" fill="#a9cee3"/>
<rect x="241" y="430" width="4" height="2" fill="#2b79b9"/>
<rect x="241" y="433" width="4" height="2" fill="#b9df94"/>
<rect x="241" y="436" width="4" height="3" fill="#40a03a"/>
<rect x="246" y="347" width="4" height="81" fill="#a9cee3"/>
<rect x="246" y="429" width="4" height="2" fill="#2b79b9"/>
<rect x="246" y="432" width="4" height="2" fill="#b9df94"/>
<rect x="246" y="435" width="4" height="4" fill="#40a03a"/>
<rect x="251" y="347" width="5" height="80" fill="#a9cee3"/>
<rect x="251" y="428" width="5" height="2" fill="#2b79b9"/>
<rect x="251" y="431" width="5" height="2" fill="#b9df94"/>
<rect x="251" y="434" width="5" height="4" fill="#40a03a"/>
<rect x="257" y="347" width="4" height="85" fill="#a9cee3"/>
<rect x="257" y="433" width="4" height="2" fill="#2b79b9"/>
<rect x="257" y="436" width="4" height="2" fill="#b9df94"/>
<rect x="257" y="439" width="4" height="4" fill="#40a03a"/>
<rect x="262" y="347" width="4" height="86" fill="#a9cee3"/>
<rect x="262" y="434" width="4" height="2" fill="#2b79b9"/>
<rect x="262" y="437" width="4" height="2" fill="#b9df94"/>
<rect x="262" y="440" width="4" height="4" fill="#40a03a"/>
<rect x="267" y="347" width="5" height="87" fill="#a9cee3"/>
<rect x="267" y="435" width="5" height="2" fill="#2b79b9"/>
<rect x="267" y="438" width="5" height="2" fill="#b9df94"/>
<rect x="267" y="441" width="5" height="4" fill="#40a03a"/>
<rect x="273" y="347" width="4" height="88" fill="#a9cee3"/>
<rect x="273" y="436" width="4" height="2" fill="#2b79b9"/>
<rect x="273" y="439" width="4" height="2" fill="#b9df94"/>
<rect x="273" y="442" width="4" height="4" fill="#40a03a"/>
<rect x="278" y="347" width="4" height="86" fill="#a9cee3"/>
<rect x="278" y="434" width="4" height="2" fill="#2b79b9"/>
<rect x="278" y="437" width="4" height="2" fill="#b9df94"/>
<rect x="278" y="440" width="4" height="4" fill="#40a03a"/>
<rect x="283" y="347" width="5" height="86" fill="#a9cee3"/>
<rect x="283" y="434" width="5" height="2" fill="#2b79b9"/>
<rect x="283" y="437" width="5" height="2" fill="#b9df94"/>
<rect x="283" y="440" width="5" height="4" fill="#40a03a"/>
<rect x="289" y="347" width="4" height="88" fill="#a9cee3"/>
<rect x="289" y="436" width="4" height="2" fill="#2b79b9"/>
<rect x="289" y="439" width="4" height="2" fill="#b9df94"/>
<rect x="289" y="442" width="4" height="4" fill="#40a03a"/>
<rect x="294" y="347" width="4" height="85" fill="#a9cee3"/>
<rect x="294" y="433" width="4" height="2" fill="#2b79b9"/>
<rect x="294" y="436" width="4" height="2" fill="#b9df94"/>
<rect x="294" y="439" width="4" height="4" fill="#40a03a"/>
<rect x="299" y="347" width="5" height="83" fill="#a9cee3"/>
<rect x="299" y="431" width="5" height="2" fill="#2b79b9"/>
<rect x="299" y="434" width="5" height="2" fill="#b9df94"/>
<rect x="299" y="437" width="5" height="4" fill="#40a03a"/>
<rect x="305" y="347" width="4" height="85" fill="#a9cee3"/>
<rect x="305" y="433" width="4" height="2" fill="#2b79b9"/>
<rect x="305" y="436" width="4" height="2" fill="#b9df94"/>
<rect x="305" y="439" width="4" height="4" fill="#40a03a"/>
<rect x="310" y="347" width="4" height="87" fill="#a9cee3"/>
<rect x="310" y="435" width="4" height="2" fill="#2b79b9"/>
<rect x="310" y="438" width="4" height="2" fill="#b9df94"/>
<rect x="310" y="441" width="4" height="4" fill="#40a03a"/>
<rect x="315" y="347" width="5" height="83" fill="#a9cee3"/>
<rect x="315" y="431" width="5" height="2" fill="#2b79b9"/>
<rect x="315" y="434" width="5" height="2" fill="#b9df94"/>
<rect x="315" y="437" width="5" height="4" fill="#40a03a"/>
<rect x="321" y="347" width="4" height="85" fill="#a9cee3"/>
<rect x="321" y="433" width="4" height="2" fill="#2b79b9"/>
<rect x="321" y="436" width="4" height="2" fill="#b9df94"/>
<rect x="321" y="439" width="4" height="4" fill="#40a03a"/>
<rect x="326" y="347" width="4" height="83" fill="#a9cee3"/>
<rect x="326" y="431" width="4" height="2" fill="#2b79b9"/>
<rect x="326" y="434" width="4" height="2" fill="#b9df94"/>
<rect x="326" y="437" width="4" height="4" fill="#40a03a"/>
<rect x="331" y="347" width="5" height="88" fill="#a9cee3"/>
<rect x="331" y="436" width="5" height="2" fill="#2b79b9"/>
<rect x="331" y="439" width="5" height="2" fill="#b9df94"/>
<rect x="331" y="442" width="5" height="4" fill="#40a03a"/>
<rect x="337" y="347" width="4" height="81" fill="#a9cee3"/>
<rect x="337" y="429" width="4" height="2" fill="#2b79b9"/>
<rect x="337" y="432" width="4" height="2" fill="#b9df94"/>
<rect x="337" y="435" width="4" height="4" fill="#40a03a"/>
<rect x="342" y="347" width="4" height="83" fill="#a9cee3"/>
<rect x="342" y="431" width="4" height="2" fill="#2b79b9"/>
<rect x="342" y="434" width="4" height="2" fill="#b9df94"/>
<rect x="342" y="437" width="4" height="4" fill="#40a03a"/>
<rect x="347" y="347" width="5" height="81" fill="#a9cee3"/>
<rect x="347" y="429" width="5" height="2" fill="#2b79b9"/>
<rect x="347" y="432" width="5" height="2" fill="#b9df94"/>
<rect x="347" y="435" width="5" height="4" fill="#40a03a"/>
<rect x="353" y="347" width="4" height="83" fill="#a9cee3"/>
<rect x="353" y="431" width="4" height="2" fill="#2b79b9"/>
<rect x="353" y="434" width="4" height="2" fill="#b9df94"/>
<rect x="353" y="437" width="4" height="4" fill="#40a03a"/>
<rect x="358" y="347" width="4" height="80" fill="#a9cee3"/>
<rect x="358" y="428" width="4" height="2" fill="#2b79b9"/>
<rect x="358" y="431" width="4" height="2" fill="#b9df94"/>
<rect x="358" y="434" width="4" height="4" fill="#40a03a"/>
<rect x="363" y="347" width="4" height="84" fill="#a9cee3"/>
<rect x="363" y="432" width="4" height="2" fill="#2b79b9"/>
<rect x="363" y="435" width="4" height="2" fill="#b9df94"/>
<rect x="363" y="438" width="4" height="4" fill="#40a03a"/>
<rect x="368" y="347" width="5" height="84" fill="#a9cee3"/>
<rect x="368" y="432" width="5" height="2" fill="#2b79b9"/>
<rect x="368" y="435" width="5" height="2" fill="#b9df94"/>
<rect x="368" y="438" width="5" height="4" fill="#40a03a"/>
<rect x="374" y="347" width="4" height="84" fill="#a9cee3"/>
<rect x="374" y="432" width="4" height="2" fill="#2b79b9"/>
<rect x="374" y="435" width="4" height="2" fill="#b9df94"/>
<rect x="374" y="438" width="4" height="4" fill="#40a03a"/>
<rect x="379" y="347" width="4" height="83" fill="#a9cee3"/>
<rect x="379" y="431" width="4" height="2" fill="#2b79b9"/>
<rect x="379" y="434" width="4" height="2" fill="#b9df94"/>
<rect x="379" y="437" width="4" height="4" fill="#40a03a"/>
<rect x="384" y="347" width="5" height="69" fill="#a9cee3"/>
<rect x="384" y="417" width="5" height="2" fill="#2b79b9"/>
<rect x="384" y="420" width="5" height="2" fill="#b9df94"/>
<rect x="384" y="423" width="5" height="4" fill="#40a03a"/>
<rect x="390" y="347" width="4" height="82" fill="#a9cee3"/>
<rect x="390" y="430" width="4" height="2" fill="#2b79b9"/>
<rect x="390" y="433" width="4" height="2" fill="#b9df94"/>
<rect x="390" y="436" width="4" height="4" fill="#40a03a"/>
</g>
<g shape-rendering="crispEdges">
<rect x="74" y="347" width="2" height="235" fill="#000"/>
<rect x="74" y="580" width="322" height="2" fill="#000"/>
<rect x="394" y="347" width="2" height="235" fill="#000"/>
</g>
<rect x="125.17" y="576" width="1.6" height="4" fill="#000"/>
<rect x="178.34" y="576" width="1.6" height="4" fill="#000"/>
<rect x="231.51" y="576" width="1.6" height="4" fill="#000"/>
<rect x="284.68" y="576" width="1.6" height="4" fill="#000"/>
<rect x="337.85" y="576" width="1.6" height="4" fill="#000"/>
<rect x="391.02" y="576" width="1.6" height="4" fill="#000"/>
<text x="67.8" y="348.0" font-size="12" font-weight="bold" text-anchor="end" fill="#000" >-10</text>
<text x="67.8" y="406.2" font-size="12" font-weight="bold" text-anchor="end" fill="#000" >-15</text>
<text x="67.8" y="464.4" font-size="12" font-weight="bold" text-anchor="end" fill="#000" >-20</text>
<text x="67.8" y="522.6" font-size="12" font-weight="bold" text-anchor="end" fill="#000" >-25</text>
<text x="67.8" y="580.8" font-size="12" font-weight="bold" text-anchor="end" fill="#000" >-30</text>
<text x="78.2" y="595.6" font-size="12" font-weight="bold" text-anchor="middle" fill="#000" >0</text>
<text x="128.0" y="595.6" font-size="12" font-weight="bold" text-anchor="middle" fill="#000" >10</text>
<text x="181.1" y="595.6" font-size="12" font-weight="bold" text-anchor="middle" fill="#000" >20</text>
<text x="234.3" y="595.6" font-size="12" font-weight="bold" text-anchor="middle" fill="#000" >30</text>
<text x="287.5" y="595.6" font-size="12" font-weight="bold" text-anchor="middle" fill="#000" >40</text>
<text x="340.7" y="595.6" font-size="12" font-weight="bold" text-anchor="middle" fill="#000" >50</text>
<text x="393.8" y="595.6" font-size="12" font-weight="bold" text-anchor="middle" fill="#000" >60</text>
<text x="230.0" y="617.3" font-size="12" font-weight="bold" text-anchor="middle" fill="#000" letter-spacing="0.35">Number of cycles</text>
<rect x="89.5" y="503.5" width="65" height="63" fill="#fff" stroke="#000" stroke-width="1"/>
<rect x="90.5" y="504.5" width="27" height="14" fill="#a9cee3" stroke="#222" stroke-width="1"/>
<text x="120.6" y="515.6" font-size="12" font-weight="bold" text-anchor="start" fill="#000" >25%</text>
<rect x="90.5" y="520.5" width="27" height="14" fill="#2b79b9" stroke="#222" stroke-width="1"/>
<text x="120.6" y="531.6" font-size="12" font-weight="bold" text-anchor="start" fill="#000" >50%</text>
<rect x="90.5" y="536.5" width="27" height="14" fill="#b9df94" stroke="#222" stroke-width="1"/>
<text x="120.6" y="547.4" font-size="12" font-weight="bold" text-anchor="start" fill="#000" >75%</text>
<rect x="90.5" y="551.5" width="27" height="14" fill="#40a03a" stroke="#222" stroke-width="1"/>
<text x="120.6" y="562.6" font-size="12" font-weight="bold" text-anchor="start" fill="#000" >100%</text>
<text x="121.0" y="473.8" font-size="12" font-weight="bold" text-anchor="middle" fill="#000" letter-spacing="0.3">Cumulative</text>
<text x="122.6" y="489.9" font-size="12" font-weight="bold" text-anchor="middle" fill="#000" letter-spacing="0.2">icing ratio:</text>
<line x1="481" y1="45.80" x2="776.70" y2="45.80" stroke="#3f7bbf" stroke-width="1.8"/>
<polygon points="469.2,46.10 483.8,42.10 483.8,49.60" fill="#3f7bbf"/>
<text x="627.2" y="40.6" font-size="12" font-weight="bold" text-anchor="middle" fill="#4a86c6" letter-spacing="0.22">cooling down at 5 K/min</text>
<rect x="471.00" y="47.00" width="2" height="238.60" fill="#000"/>
<rect x="774.80" y="44.90" width="2" height="240.60" fill="#000"/>
<rect x="471.00" y="283.40" width="305.80" height="2" fill="#000"/>
<rect x="521.83" y="279.90" width="1.6" height="4.5" fill="#000"/>
<rect x="572.47" y="279.90" width="1.6" height="4.5" fill="#000"/>
<rect x="623.10" y="279.90" width="1.6" height="4.5" fill="#000"/>
<rect x="673.73" y="279.90" width="1.6" height="4.5" fill="#000"/>
<rect x="724.37" y="279.90" width="1.6" height="4.5" fill="#000"/>
<text x="471.4" y="300.0" font-size="12" font-weight="bold" text-anchor="middle" fill="#000" >-30</text>
<text x="522.0" y="300.0" font-size="12" font-weight="bold" text-anchor="middle" fill="#000" >-25</text>
<text x="572.7" y="300.0" font-size="12" font-weight="bold" text-anchor="middle" fill="#000" >-20</text>
<text x="623.3" y="300.0" font-size="12" font-weight="bold" text-anchor="middle" fill="#000" >-15</text>
<text x="673.9" y="300.0" font-size="12" font-weight="bold" text-anchor="middle" fill="#000" >-10</text>
<text x="724.6" y="300.0" font-size="12" font-weight="bold" text-anchor="middle" fill="#000" >-5</text>
<text x="775.2" y="300.0" font-size="12" font-weight="bold" text-anchor="middle" fill="#000" >0</text>
<text x="607.2" y="319.2" font-size="12"><tspan font-weight="bold" font-style="italic">T</tspan><tspan font-weight="normal" font-size="13"> [</tspan><tspan font-size="9" dy="-4.8">o</tspan><tspan dy="4.8" font-size="13">C]</tspan></text>
<text x="0" y="0" font-size="12" font-weight="bold" text-anchor="middle" transform="translate(454.6 159.5) rotate(-90)">Heat flux [mW]</text>
<line x1="481" y1="343.20" x2="776.70" y2="343.20" stroke="#3f7bbf" stroke-width="1.8"/>
<polygon points="469.2,343.50 483.8,339.50 483.8,347.00" fill="#3f7bbf"/>
<text x="627.2" y="338.0" font-size="12" font-weight="bold" text-anchor="middle" fill="#4a86c6" letter-spacing="0.22">cooling down at 5 K/min</text>
<rect x="471.00" y="344.40" width="2" height="238.40" fill="#000"/>
<rect x="774.80" y="342.30" width="2" height="240.40" fill="#000"/>
<rect x="471.00" y="580.60" width="305.80" height="2" fill="#000"/>
<rect x="514.60" y="577.10" width="1.6" height="4.5" fill="#000"/>
<rect x="558.00" y="577.10" width="1.6" height="4.5" fill="#000"/>
<rect x="601.40" y="577.10" width="1.6" height="4.5" fill="#000"/>
<rect x="644.80" y="577.10" width="1.6" height="4.5" fill="#000"/>
<rect x="688.20" y="577.10" width="1.6" height="4.5" fill="#000"/>
<rect x="731.60" y="577.10" width="1.6" height="4.5" fill="#000"/>
<text x="471.4" y="597.2" font-size="12" font-weight="bold" text-anchor="middle" fill="#000" >-30</text>
<text x="514.8" y="597.2" font-size="12" font-weight="bold" text-anchor="middle" fill="#000" >-25</text>
<text x="558.2" y="597.2" font-size="12" font-weight="bold" text-anchor="middle" fill="#000" >-20</text>
<text x="601.6" y="597.2" font-size="12" font-weight="bold" text-anchor="middle" fill="#000" >-15</text>
<text x="645.0" y="597.2" font-size="12" font-weight="bold" text-anchor="middle" fill="#000" >-10</text>
<text x="688.4" y="597.2" font-size="12" font-weight="bold" text-anchor="middle" fill="#000" >-5</text>
<text x="731.8" y="597.2" font-size="12" font-weight="bold" text-anchor="middle" fill="#000" >0</text>
<text x="775.2" y="597.2" font-size="12" font-weight="bold" text-anchor="middle" fill="#000" >5</text>
<text x="607.2" y="616.4" font-size="12"><tspan font-weight="bold" font-style="italic">T</tspan><tspan font-weight="normal" font-size="13"> [</tspan><tspan font-size="9" dy="-4.8">o</tspan><tspan dy="4.8" font-size="13">C]</tspan></text>
<text x="0" y="0" font-size="12" font-weight="bold" text-anchor="middle" transform="translate(454.6 456.5) rotate(-90)">Heat flux [mW]</text>
<path d="M472.00,70.00 L494.00,70.00 L498.00,71.00 L502.00,74.00 L505.00,79.00 L506.30,83.50 L507.60,83.00 L508.20,70.00 L583.00,70.00 L587.00,71.50 L592.40,74.40 L597.70,79.70 L600.00,84.40 L603.60,72.90 L606.00,74.50 L608.10,77.40 L611.90,81.90 L614.10,70.00 L629.80,70.00 L634.00,71.00 L638.80,72.90 L642.00,76.00 L644.70,79.70 L647.70,74.40 L650.70,75.90 L653.00,70.00 L776.00,70.00" fill="none" stroke="#3b5a22" stroke-width="2" stroke-linejoin="round"/>
<path d="M472.00,99.00 L495.00,99.00 L499.00,100.00 L503.00,103.00 L506.00,108.00 L508.10,115.40 L509.40,115.00 L510.00,99.00 L574.00,99.00 L579.00,101.30 L585.00,105.80 L587.90,113.20 L591.70,102.80 L596.00,106.50 L599.90,111.10 L602.10,101.00 L605.90,99.00 L629.80,99.00 L637.30,101.30 L641.00,104.50 L644.00,108.10 L647.00,103.60 L649.20,104.30 L652.20,99.00 L776.00,99.00" fill="none" stroke="#5b7b29" stroke-width="2" stroke-linejoin="round"/>
<path d="M472.00,128.00 L501.00,128.00 L505.00,130.00 L508.50,134.00 L511.00,140.00 L512.60,147.50 L513.60,147.00 L514.10,129.00 L576.00,129.00 L580.00,131.50 L583.80,139.60 L586.10,129.00 L590.00,131.50 L594.70,135.20 L596.90,132.20 L601.00,135.00 L606.60,138.90 L609.20,129.00 L635.80,129.00 L640.00,131.00 L646.20,134.90 L650.70,134.90 L653.00,129.00 L776.00,129.00" fill="none" stroke="#a3ba35" stroke-width="2" stroke-linejoin="round"/>
<path d="M472.00,158.00 L506.00,158.00 L510.00,159.50 L513.50,163.00 L516.00,169.00 L517.80,179.60 L519.40,179.40 L520.10,158.00 L573.00,158.00 L577.00,159.00 L579.00,160.60 L582.00,164.00 L584.20,169.60 L586.40,159.00 L591.00,162.00 L596.90,167.30 L599.10,162.80 L602.00,164.50 L605.10,166.60 L607.40,159.00 L638.80,158.00 L643.00,159.50 L649.20,162.10 L653.00,158.00 L776.00,158.00" fill="none" stroke="#d6b43a" stroke-width="2" stroke-linejoin="round"/>
<path d="M472.00,187.00 L553.00,187.00 L557.00,188.00 L560.50,192.00 L563.50,199.00 L565.40,212.40 L566.80,212.20 L567.50,187.00 L572.00,187.00 L583.50,188.00 L590.90,190.70 L596.90,196.70 L601.00,204.10 L602.90,191.40 L608.10,195.20 L610.40,188.00 L611.90,187.00 L641.00,187.00 L644.00,188.80 L653.70,188.80 L656.00,187.00 L776.00,187.00" fill="none" stroke="#b56e12" stroke-width="2" stroke-linejoin="round"/>
<path d="M472.00,216.00 L505.00,216.00 L507.00,217.80 L511.00,218.20 L513.00,216.00 L517.80,216.00 L540.30,216.00 L545.00,217.50 L549.00,221.50 L552.00,229.00 L553.70,242.60 L555.00,242.40 L555.50,217.00 L570.00,217.00 L574.60,217.00 L577.50,219.10 L583.50,224.30 L588.70,228.80 L590.90,218.30 L600.60,218.30 L604.00,220.50 L608.90,225.10 L611.90,218.30 L620.80,217.60 L622.30,216.00 L641.70,216.00 L643.20,217.00 L658.20,217.00 L659.50,216.00 L776.00,216.00" fill="none" stroke="#603c10" stroke-width="2" stroke-linejoin="round"/>
<path d="M472.00,245.00 L500.60,245.00 L503.50,247.50 L506.60,249.90 L509.60,246.00 L514.80,246.00 L518.00,247.00 L521.60,248.70 L524.50,251.00 L526.80,254.70 L528.80,262.00 L530.50,273.20 L531.80,272.60 L533.50,247.20 L538.00,250.90 L541.70,246.00 L546.00,250.50 L550.70,256.20 L553.00,245.00 L562.70,245.00 L567.20,247.90 L571.60,245.00 L580.60,245.00 L584.00,248.50 L587.20,252.70 L588.70,245.00 L776.00,245.00" fill="none" stroke="#b3781a" stroke-width="2" stroke-linejoin="round"/>
<path d="M472.00,359.00 L573.40,359.00 L575.80,360.00 L577.60,361.50 L579.40,364.20 L580.70,367.80 L586.50,389.20 L587.50,388.50 L588.30,385.50 L588.00,365.10 L587.90,359.00 L776.00,359.00" fill="none" stroke="#3b5a22" stroke-width="2" stroke-linejoin="round"/>
<path d="M472.00,391.00 L572.40,391.00 L575.00,392.00 L577.10,393.90 L578.80,396.50 L580.20,400.10 L585.40,421.00 L586.50,420.50 L587.50,415.00 L587.80,391.00 L776.00,391.00" fill="none" stroke="#5b7b29" stroke-width="2" stroke-linejoin="round"/>
<path d="M472.00,423.00 L569.20,423.00 L571.50,424.00 L573.40,425.70 L575.00,428.80 L576.60,433.00 L581.80,452.30 L582.80,451.80 L583.30,449.70 L583.30,423.00 L776.00,423.00" fill="none" stroke="#a3ba35" stroke-width="2" stroke-linejoin="round"/>
<path d="M472.00,455.00 L575.00,455.00 L577.00,456.00 L578.60,458.00 L580.20,460.80 L581.80,464.30 L587.50,485.20 L588.50,484.50 L589.90,477.90 L589.10,455.00 L776.00,455.00" fill="none" stroke="#d6b43a" stroke-width="2" stroke-linejoin="round"/>
<path d="M472.00,487.00 L572.90,487.00 L575.20,488.00 L577.10,489.60 L578.80,492.40 L580.20,495.90 L585.40,516.80 L586.50,516.00 L587.50,512.60 L587.50,487.00 L776.00,487.00" fill="none" stroke="#b56e12" stroke-width="2" stroke-linejoin="round"/>
<path d="M472.00,519.00 L569.80,519.00 L571.80,520.00 L573.40,521.00 L575.00,523.80 L576.60,527.20 L581.80,549.20 L583.00,548.60 L583.90,547.10 L583.30,519.00 L750.00,519.00 L750.50,518.00 L776.00,518.00" fill="none" stroke="#603c10" stroke-width="2" stroke-linejoin="round"/>
<path d="M472.00,550.00 L561.40,550.00 L564.00,550.00 L567.20,551.00 L569.50,552.30 L571.30,554.00 L573.00,556.80 L574.50,560.30 L579.50,580.10 L580.60,579.50 L581.80,573.90 L581.80,551.00 L582.50,550.00 L776.00,550.00" fill="none" stroke="#b3781a" stroke-width="2" stroke-linejoin="round"/>
<g shape-rendering="crispEdges">
<line x1="520" y1="127.5" x2="575" y2="127.5" stroke="#a3ba35" stroke-width="1" stroke-dasharray="1 4" opacity="0.8"/>
<line x1="610" y1="127.5" x2="635" y2="127.5" stroke="#a3ba35" stroke-width="1" stroke-dasharray="1 4" opacity="0.8"/>
<line x1="655" y1="127.5" x2="776" y2="127.5" stroke="#a3ba35" stroke-width="1" stroke-dasharray="1 4" opacity="0.8"/>
<line x1="472" y1="127.5" x2="500" y2="127.5" stroke="#a3ba35" stroke-width="1" stroke-dasharray="1 5" opacity="0.8"/>
<line x1="590" y1="243.5" x2="776" y2="243.5" stroke="#b3781a" stroke-width="1" stroke-dasharray="1 4" opacity="0.8"/>
<line x1="592" y1="246.5" x2="776" y2="246.5" stroke="#b3781a" stroke-width="1" stroke-dasharray="1 6" opacity="0.6"/>
<line x1="472" y1="243.5" x2="500" y2="243.5" stroke="#b3781a" stroke-width="1" stroke-dasharray="1 5" opacity="0.8"/>
</g>
<text x="718.4" y="63.8" font-size="12" font-weight="bold" text-anchor="start" fill="#2f4a22" letter-spacing="0.15">cycle 60</text>
<text x="718.4" y="93.0" font-size="12" font-weight="bold" text-anchor="start" fill="#6f8c45" letter-spacing="0.15">cycle 51</text>
<text x="718.4" y="122.4" font-size="12" font-weight="bold" text-anchor="start" fill="#879a38" letter-spacing="0.15">cycle 41</text>
<text x="718.4" y="151.8" font-size="12" font-weight="bold" text-anchor="start" fill="#b09238" letter-spacing="0.15">cycle 31</text>
<text x="718.4" y="180.8" font-size="12" font-weight="bold" text-anchor="start" fill="#8a5a20" letter-spacing="0.15">cycle 21</text>
<text x="718.4" y="209.8" font-size="12" font-weight="bold" text-anchor="start" fill="#4a3418" letter-spacing="0.15">cycle 11</text>
<text x="718.4" y="238.8" font-size="12" font-weight="bold" text-anchor="start" fill="#94692a" letter-spacing="0.15">cycle 1</text>
<text x="766.3" y="373.0" font-size="12" font-weight="bold" text-anchor="end" fill="#2f4a22" letter-spacing="0.15">cycle 60</text>
<text x="766.3" y="405.2" font-size="12" font-weight="bold" text-anchor="end" fill="#6f8c45" letter-spacing="0.15">cycle 51</text>
<text x="766.3" y="436.3" font-size="12" font-weight="bold" text-anchor="end" fill="#879a38" letter-spacing="0.15">cycle 41</text>
<text x="766.3" y="468.7" font-size="12" font-weight="bold" text-anchor="end" fill="#b09238" letter-spacing="0.15">cycle 31</text>
<text x="766.3" y="499.9" font-size="12" font-weight="bold" text-anchor="end" fill="#8a5a20" letter-spacing="0.15">cycle 21</text>
<text x="766.3" y="532.2" font-size="12" font-weight="bold" text-anchor="end" fill="#4a3418" letter-spacing="0.15">cycle 11</text>
<text x="764.5" y="563.4" font-size="12" font-weight="bold" text-anchor="end" fill="#94692a" letter-spacing="0.15">cycle 1</text>
<text x="17.8" y="27.0" font-size="14.5" font-weight="bold" text-anchor="start" fill="#000" letter-spacing="0.9">(a)</text>
<text x="429.4" y="27.0" font-size="14.5" font-weight="bold" text-anchor="start" fill="#000" letter-spacing="0.9">(b)</text>
<text x="17.8" y="346.0" font-size="14.5" font-weight="bold" text-anchor="start" fill="#000" letter-spacing="0.9">(c)</text>
<text x="429.4" y="346.0" font-size="14.5" font-weight="bold" text-anchor="start" fill="#000" letter-spacing="0.9">(d)</text>
<text x="0" y="0" font-size="13" fill="#000" transform="translate(36.0 182.8) rotate(-90)"><tspan font-style="italic" font-weight="bold">T</tspan><tspan font-size="8.6" dy="2.2" dx="0.6">onset</tspan><tspan dy="-2.2" dx="4" font-size="12"> [</tspan><tspan font-size="8.5" dy="-4.3">o</tspan><tspan dy="4.3" font-size="12">C]</tspan></text>
<text x="0" y="0" font-size="13" fill="#000" transform="translate(36.0 486.3) rotate(-90)"><tspan font-style="italic" font-weight="bold">T</tspan><tspan font-size="8.6" dy="2.2" dx="0.6">onset</tspan><tspan dy="-2.2" dx="4" font-size="12"> [</tspan><tspan font-size="8.5" dy="-4.3">o</tspan><tspan dy="4.3" font-size="12">C]</tspan></text>
</svg>
<div class="cap j" id="c0" style="top:642.84px"><b>Figure 1</b>. (a) Cumulative icing ratio of supercooled water in Toray-30%FEP-g-pNVF with patterned</div>
<div class="cap j" id="c1" style="top:664.64px">wettability (6 mm disk, hydrophilic 250 µm –hydrophobic 1000 µm) (b) Heat flux as a function of the</div>
<div class="cap j" id="c2" style="top:686.84px">temperature of the patterned GDL measured by DSC over 60 cycles. (c) Cumulative icing ratio of</div>
<div class="cap j" id="c3" style="top:709.04px">supercooled water in non-patterned Toray-TGP-H-060. (d) Heat flux as a function of the temperature</div>
<div class="cap" id="c4" style="top:732.04px">of the non-patterned GDL measured by DSC over 60 cycles.</div>
</body></html>
